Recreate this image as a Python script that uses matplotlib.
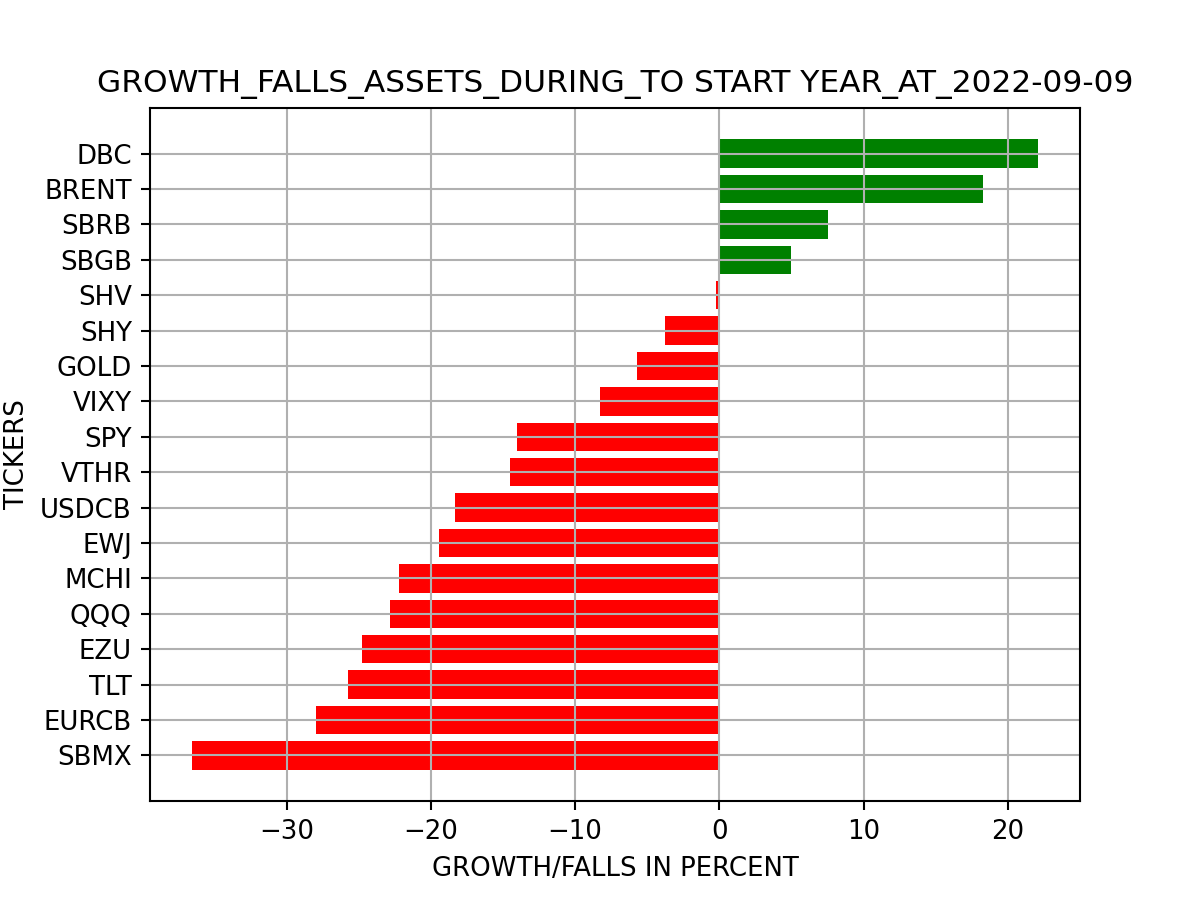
import matplotlib
matplotlib.use("Agg")
import matplotlib.pyplot as plt

tickers = ["SBMX", "EURCB", "TLT", "EZU", "QQQ", "MCHI", "EWJ", "USDCB", "VTHR",
           "SPY", "VIXY", "GOLD", "SHY", "SHV", "SBGB", "SBRB", "BRENT", "DBC"]
values = [-36.54, -27.96, -25.74, -24.78, -22.84, -22.21, -19.45, -18.34, -14.53,
          -14.05, -8.30, -5.67, -3.74, -0.20, 4.98, 7.54, 18.27, 22.08]

colors = ["green" if v > 0 else "red" for v in values]

fig, ax = plt.subplots(figsize=(6.4, 4.8), dpi=187.5)
ax.barh(tickers, values, color=colors)
ax.grid(True)
ax.set_title("GROWTH_FALLS_ASSETS_DURING_TO START YEAR_AT_2022-09-09")
ax.set_xlabel("GROWTH/FALLS IN PERCENT")
ax.set_ylabel("TICKERS")
fig.savefig("out.png", dpi=187.5)
